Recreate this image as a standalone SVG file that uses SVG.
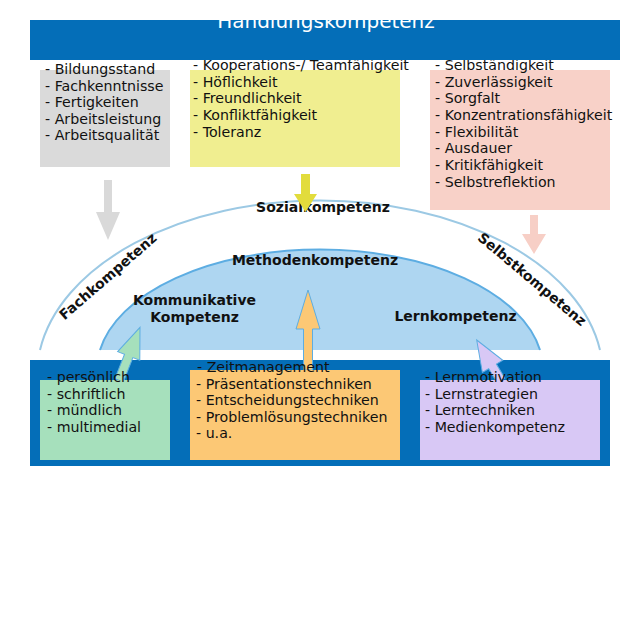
<svg xmlns="http://www.w3.org/2000/svg" width="640" height="640" viewBox="0 0 640 640">
  <style>
    .t { font-family: "DejaVu Sans", Verdana, sans-serif; font-size: 14.2px; fill: #111; }
    .b { font-family: "DejaVu Sans", Verdana, sans-serif; font-size: 14px; font-weight: bold; fill: #111; text-anchor: middle; }
    .bar { fill: #046eb8; }
    .ua { stroke: #5dade2; stroke-width: 1; }
  </style>
  <rect width="640" height="640" fill="#ffffff"/>

  <!-- dome shapes -->
  <g id="arcs">
    <path d="M40,350 A283,175 0 0 1 600,350" fill="none" stroke="#9cc9e4" stroke-width="2"/>
    <path d="M100,350 A223,120 0 0 1 540,350 Z" fill="#aed6f1"/>
    <path d="M100,350 A223,120 0 0 1 540,350" fill="none" stroke="#5dade2" stroke-width="2"/>
  </g>

  <rect id="basis-bar" class="bar" x="30" y="360" width="580" height="106"/>

  <g id="labels">
    <text class="b" x="323" y="212">Sozialkompetenz</text>
    <text class="b" x="315" y="265">Methodenkompetenz</text>
    <text class="b" x="194.5" y="305">Kommunikative</text>
    <text class="b" x="194.5" y="322">Kompetenz</text>
    <text class="b" x="455.5" y="321">Lernkompetenz</text>
    <text class="b" transform="translate(111,280) rotate(-41)">Fachkompetenz</text>
    <text class="b" transform="translate(529,283) rotate(40)">Selbstkompetenz</text>
  </g>

  <g id="connectors">
    <polygon fill="#d9d9d9" points="104,180 112,180 112,212 120,212 108,240 96,212 104,212"/>
    <polygon fill="#e2dc3c" points="301,174 310,174 310,194 317,194 305.5,212 294,194 301,194"/>
    <polygon fill="#f7cfc6" points="530,215 538,215 538,234 546,234 534,254 522,234 530,234"/>
    <polygon class="ua" fill="#fcc875" points="308,290 320,329 312.5,329 312.5,370 303.5,370 303.5,329 296,329"/>
    <polygon class="ua" fill="#a6e0bc" transform="translate(140,327.3) rotate(21.5)" points="0,0 11.9,30.8 4.5,30.8 4.5,57 -4.5,57 -4.5,30.8 -11.9,30.8"/>
    <polygon class="ua" fill="#d8c8f5" transform="translate(476.7,340) rotate(-31)" points="0,0 11.9,30.8 4.5,30.8 4.5,47 -4.5,47 -4.5,30.8 -11.9,30.8"/>
  </g>

  <g id="fach">
    <rect x="40" y="70" width="130" height="97" fill="#dadada"/>
    <text class="t" x="45" y="74">- Bildungsstand</text>
    <text class="t" x="45" y="90.5">- Fachkenntnisse</text>
    <text class="t" x="45" y="107">- Fertigkeiten</text>
    <text class="t" x="45" y="123.5">- Arbeitsleistung</text>
    <text class="t" x="45" y="140">- Arbeitsqualität</text>
  </g>

  <g id="sozial">
    <rect x="190" y="70" width="210" height="97" fill="#f0ee90"/>
    <text class="t" x="193" y="70">- Kooperations-/ Teamfähigkeit</text>
    <text class="t" x="193" y="86.7">- Höflichkeit</text>
    <text class="t" x="193" y="103.3">- Freundlichkeit</text>
    <text class="t" x="193" y="120">- Konfliktfähigkeit</text>
    <text class="t" x="193" y="136.7">- Toleranz</text>
  </g>

  <g id="selbst">
    <rect x="430" y="70" width="180" height="140" fill="#f8d1c8"/>
    <text class="t" x="435" y="70">- Selbständigkeit</text>
    <text class="t" x="435" y="86.7">- Zuverlässigkeit</text>
    <text class="t" x="435" y="103.3">- Sorgfalt</text>
    <text class="t" x="435" y="120">- Konzentrationsfähigkeit</text>
    <text class="t" x="435" y="136.7">- Flexibilität</text>
    <text class="t" x="435" y="153.3">- Ausdauer</text>
    <text class="t" x="435" y="170">- Kritikfähigkeit</text>
    <text class="t" x="435" y="186.7">- Selbstreflektion</text>
  </g>

  <g id="kommunikation">
    <rect x="40" y="380" width="130" height="80" fill="#a6e0bc"/>
    <text class="t" x="47" y="382">- persönlich</text>
    <text class="t" x="47" y="398.5">- schriftlich</text>
    <text class="t" x="47" y="415">- mündlich</text>
    <text class="t" x="47" y="431.5">- multimedial</text>
  </g>

  <g id="methoden">
    <rect x="190" y="370" width="210" height="90" fill="#fcc875"/>
    <text class="t" x="197" y="372">- Zeitmanagement</text>
    <text class="t" x="196" y="388.5">- Präsentationstechniken</text>
    <text class="t" x="196" y="405">- Entscheidungstechniken</text>
    <text class="t" x="196" y="421.5">- Problemlösungstechniken</text>
    <text class="t" x="196" y="438">- u.a.</text>
  </g>

  <g id="lern">
    <rect x="420" y="380" width="180" height="80" fill="#d8c8f5"/>
    <text class="t" x="425" y="382">- Lernmotivation</text>
    <text class="t" x="425" y="398.5">- Lernstrategien</text>
    <text class="t" x="425" y="415">- Lerntechniken</text>
    <text class="t" x="425" y="431.5">- Medienkompetenz</text>
  </g>

  <g id="handlungskompetenz">
    <rect class="bar" x="30" y="20" width="590" height="40"/>
    <text x="326" y="28" font-family="DejaVu Sans, Verdana, sans-serif" font-size="20" fill="#ffffff" text-anchor="middle">Handlungskompetenz</text>
  </g>
</svg>
